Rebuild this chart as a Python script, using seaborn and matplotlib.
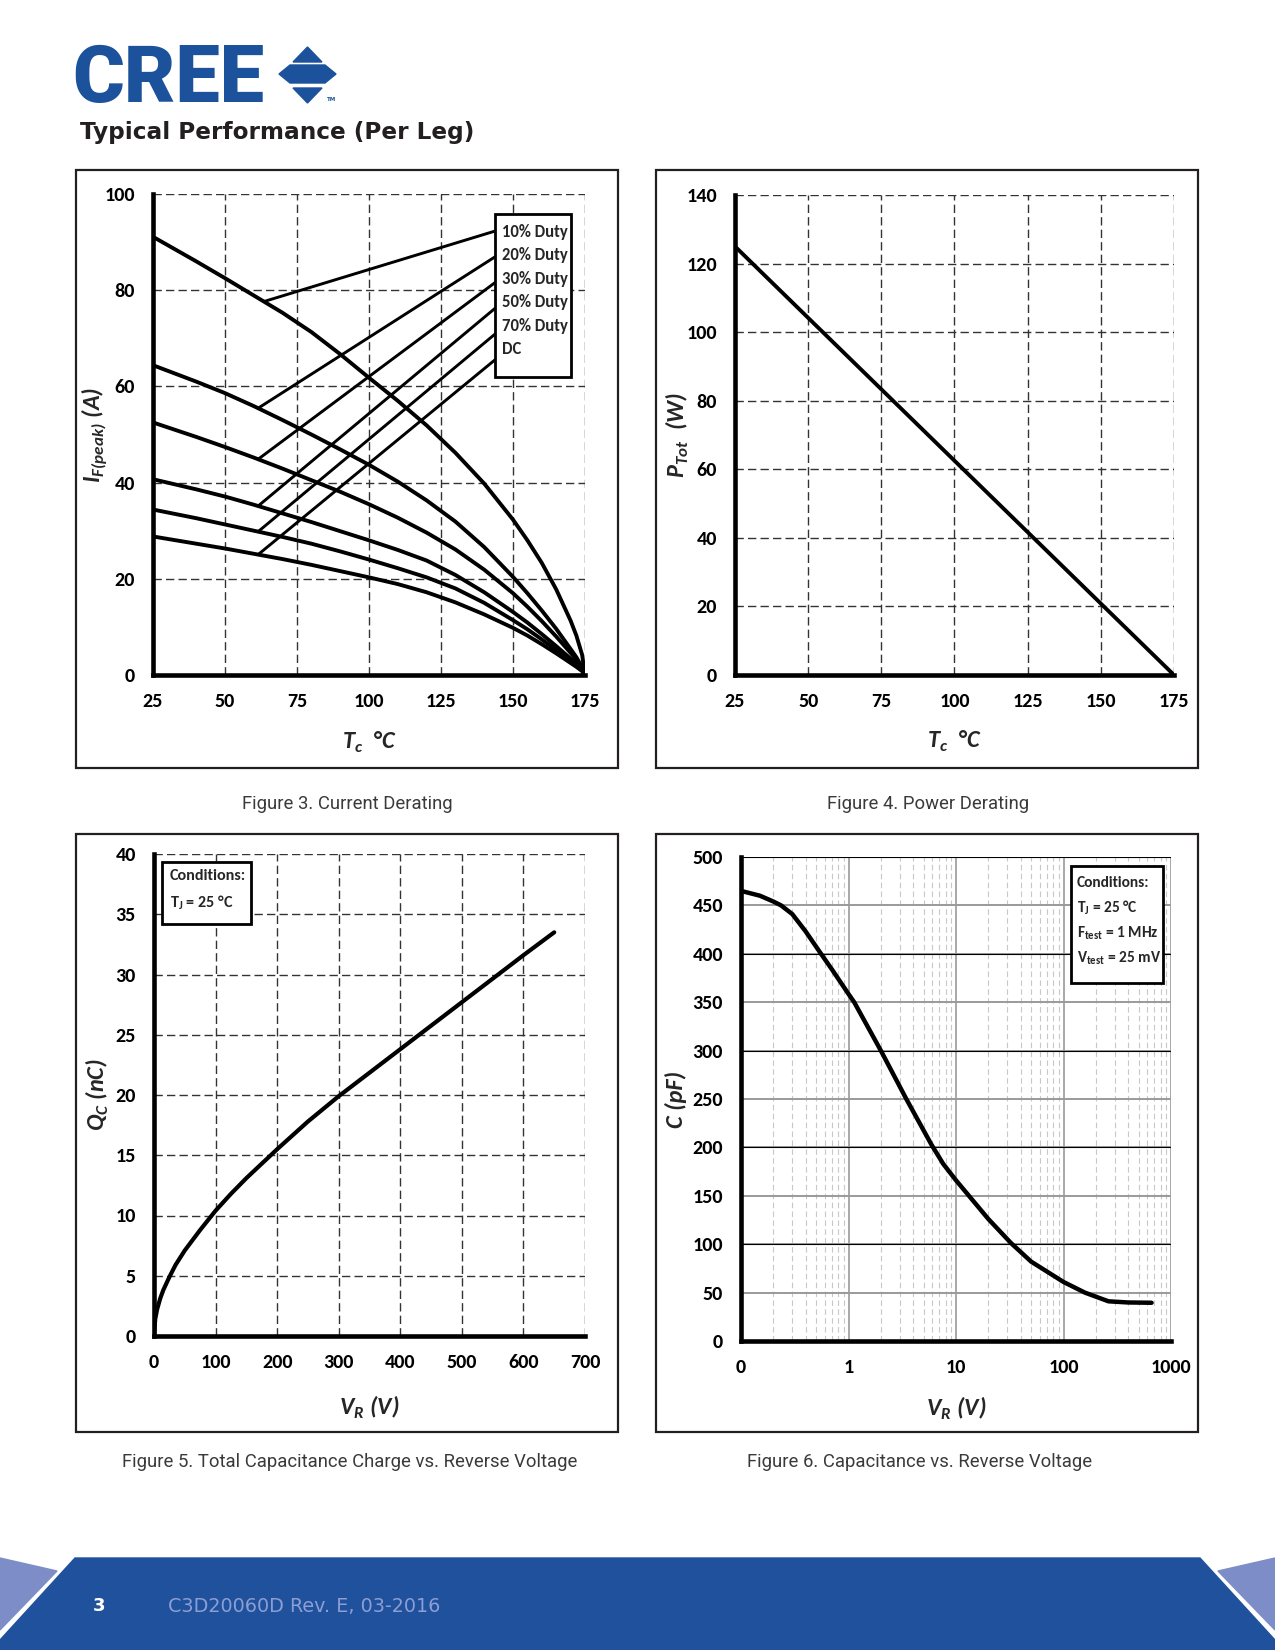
import numpy as np
import pandas as pd
import matplotlib
matplotlib.use('Agg')
import matplotlib.pyplot as plt
import seaborn as sns
from matplotlib import font_manager
from matplotlib.patches import Rectangle, Polygon
from matplotlib.ticker import LogLocator, NullFormatter

# --- values ---
# Figure 3: current derating (case temperature in degC, peak forward current in A)
tc = [25, 40, 50, 60, 70, 80, 90, 100, 110, 120, 130, 140, 150, 155, 160, 165, 170, 172, 174, 175]
duty_labels = ['10% Duty', '20% Duty', '30% Duty', '50% Duty', '70% Duty', 'DC']
if_10 = [91.1, 86.0, 82.5, 78.9, 75.3, 71.3, 66.7, 61.8, 57.0, 51.9, 46.2, 39.8, 32.3, 28.0, 23.3, 17.8, 11.3, 8.2, 4.2, 0]
if_20 = [64.4, 61.0, 58.6, 55.9, 53.0, 50.0, 46.9, 43.7, 40.2, 36.3, 31.9, 26.6, 20.4, 17.0, 13.4, 9.6, 5.4, 3.7, 1.6, 0]
if_30 = [52.5, 49.5, 47.4, 45.2, 42.9, 40.5, 38.1, 35.5, 32.7, 29.6, 26.1, 21.9, 17.0, 14.2, 11.2, 8.0, 4.6, 3.2, 1.5, 0]
if_50 = [40.7, 38.6, 37.1, 35.4, 33.6, 31.8, 29.9, 28.0, 26.0, 23.8, 20.8, 17.2, 13.1, 10.9, 8.5, 6.0, 3.4, 2.3, 1.1, 0]
if_70 = [34.4, 32.6, 31.3, 30.0, 28.7, 27.3, 25.7, 24.0, 22.2, 20.3, 18.0, 15.0, 11.4, 9.5, 7.4, 5.2, 2.9, 2.0, 0.9, 0]
if_dc = [28.8, 27.3, 26.3, 25.2, 24.1, 22.9, 21.6, 20.3, 18.9, 17.2, 15.1, 12.6, 9.8, 8.2, 6.4, 4.5, 2.5, 1.7, 0.8, 0]

# Figure 4: power derating
ptot_tc = [25, 175]
ptot_w = [125, 0]

# Figure 5: total capacitance charge
qc_vr = [0, 2, 5, 10, 15, 25, 35, 50, 75, 100, 125, 150, 200, 250, 300, 350, 400, 450, 500, 550, 600, 650]
qc_nc = [0, 1.4, 2.2, 3.1, 3.8, 4.9, 5.9, 7.1, 8.8, 10.4, 11.8, 13.1, 15.5, 17.8, 19.9, 21.85, 23.8,
         25.75, 27.7, 29.65, 31.6, 33.5]

# Figure 6: capacitance vs reverse voltage
c_vr = [0.1, 0.15, 0.2, 0.236, 0.3, 0.4, 0.555, 0.7, 1.0, 1.13, 2.0, 3.45, 5.9, 7.6, 10, 13.9, 20,
        32.6, 50, 100, 158, 262, 400, 660]
c_pf = [465, 460, 454, 450, 441, 423, 400, 384, 358.5, 350, 300, 250, 203, 183, 166, 147, 126,
        101, 82, 61, 50, 41, 39.8, 39.5]

# --- fonts ---
sns.set_style('white')
fm = font_manager.fontManager.ttflist
names = {f.name for f in fm}


def has_bold(fam):
    return any(f.name == fam and f.weight in (700, 'bold') for f in fm)


pref = ['Carlito', 'Cabin Condensed', 'Liberation Sans']
chart_font = next((f for f in pref if f in names and has_bold(f)), 'DejaVu Sans')
plt.rcParams['font.family'] = [chart_font, 'DejaVu Sans']
plt.rcParams['font.weight'] = 'bold'
plt.rcParams['axes.labelweight'] = 'bold'

W, H = 1275, 1650
fig = plt.figure(figsize=(W / 100, H / 100), dpi=100)


def rect(x0, y0, x1, y1):
    return [x0 / W, 1 - y1 / H, (x1 - x0) / W, (y1 - y0) / H]


# page layer in pixel coordinates
bg = fig.add_axes([0, 0, 1, 1])
bg.set_xlim(0, W)
bg.set_ylim(H, 0)
bg.axis('off')

blue = '#1c529b'
bg.text(72, 102, 'CREE', family='Roboto', fontweight='heavy', fontsize=57, color=blue, va='baseline')
bg.add_patch(Polygon([(293, 62), (322, 62), (307.5, 47)], color=blue))
bg.add_patch(Polygon([(279, 74), (290, 65), (325, 65), (336, 74), (325, 83), (290, 83)], color=blue))
bg.add_patch(Polygon([(293, 88), (322, 88), (307.5, 103)], color=blue))
bg.text(327, 101, 'TM', fontsize=4, color=blue, family='DejaVu Sans')
bg.text(80, 139, 'Typical Performance (Per Leg)', family='DejaVu Sans', fontweight='bold',
        fontsize=16.7, color='#231f20', va='baseline')

# panel frames
for x0, y0 in [(76, 170), (656, 170), (76, 834), (656, 834)]:
    bg.add_patch(Rectangle((x0, y0), 542, 598, fill=False, lw=1.6, ec='#231f20'))

cap_kw = dict(family='Roboto', fontweight='normal', fontsize=13.3, color='#3a3a3a', ha='center', va='center')
bg.text(347, 804, 'Figure 3. Current Derating', **cap_kw)
bg.text(928, 804, 'Figure 4. Power Derating', **cap_kw)
bg.text(350, 1462, 'Figure 5. Total Capacitance Charge vs. Reverse Voltage', **cap_kw)
bg.text(920, 1462, 'Figure 6. Capacitance vs. Reverse Voltage', **cap_kw)

# footer
bg.add_patch(Polygon([(0, 1558), (57, 1571), (0, 1630)], color='#7d8dc7'))
bg.add_patch(Polygon([(1275, 1558), (1218, 1571), (1275, 1630)], color='#7d8dc7'))
bg.add_patch(Polygon([(75, 1558), (1200, 1558), (1275, 1640), (1275, 1650), (0, 1650), (0, 1640)],
                     color='#1f519c'))
bg.text(93, 1606, '3', family='DejaVu Sans', fontweight='bold', fontsize=13, color='white', va='center')
bg.text(168, 1606, 'C3D20060D Rev. E, 03-2016', family='DejaVu Sans', fontweight='normal',
        fontsize=13.8, color='#8c9ed3', va='center')

grid_kw = dict(color='#333333', linestyle=(0, (6, 3)), linewidth=1.0)
label_kw = dict(fontsize=17.5, fontstyle='italic', fontweight='bold')
small = 12


def style(ax):
    for s in ['top', 'right']:
        ax.spines[s].set_visible(False)
    for s in ['left', 'bottom']:
        ax.spines[s].set_linewidth(3.3)
        ax.spines[s].set_color('black')
    ax.tick_params(axis='both', which='major', length=5, width=2.5, pad=8, labelsize=14.5,
                   color='black', labelcolor='black')
    ax.set_axisbelow(True)


# --- Figure 3 ---
ax1 = fig.add_axes(rect(153, 194, 585, 675))
series = [if_10, if_20, if_30, if_50, if_70, if_dc]
df1 = pd.DataFrame({
    'Tc': np.tile(tc, len(series)),
    'IF': np.concatenate(series),
    'duty': np.repeat(duty_labels, len(tc)),
})
sns.lineplot(data=df1, x='Tc', y='IF', hue='duty', palette=['black'] * 6, linewidth=2.8,
             legend=False, ax=ax1, sort=False)
ax1.set_xlim(25, 175)
ax1.set_ylim(0, 100)
ax1.set_xticks(range(25, 176, 25))
ax1.set_yticks(range(0, 101, 20))
ax1.grid(True, **grid_kw)
style(ax1)
ax1.set_xlabel(r'T$_\mathregular{c}$  °C', **label_kw)
ax1.set_ylabel(r'I$_\mathregular{F(peak)}$ (A)', **label_kw)
ax1.xaxis.set_label_coords(0.5, -0.113)
ax1.yaxis.set_label_coords(-0.1, 0.5)

# legend box with leader lines
box_l, box_r, box_b, box_t = 143.8, 170.3, 62.0, 95.8
ax1.add_patch(Rectangle((box_l, box_b), box_r - box_l, box_t - box_b, fc='white', ec='black',
                        lw=2, zorder=5))
lead_start = [63.5, 61.5, 61.5, 61.5, 61.5, 61.5]
for i, (lab, s) in enumerate(zip(duty_labels, series)):
    y_text = 92.2 - i * 4.9
    ax1.text(146.2, y_text, lab, fontsize=small, va='center', zorder=6)
    x0 = lead_start[i]
    ax1.plot([x0, box_l], [np.interp(x0, tc, s), 92.3 - i * 5.35], color='black', lw=2.1, zorder=4)

# --- Figure 4 ---
ax2 = fig.add_axes(rect(735, 195, 1174, 675))
sns.lineplot(x=ptot_tc, y=ptot_w, color='black', linewidth=2.8, ax=ax2)
ax2.set_xlim(25, 175)
ax2.set_ylim(0, 140)
ax2.set_xticks(range(25, 176, 25))
ax2.set_yticks(range(0, 141, 20))
ax2.grid(True, **grid_kw)
style(ax2)
ax2.set_xlabel(r'T$_\mathregular{c}$  °C', **label_kw)
ax2.set_ylabel(r'P$_\mathregular{Tot}$  (W)', **label_kw)
ax2.xaxis.set_label_coords(0.5, -0.113)
ax2.yaxis.set_label_coords(-0.1, 0.5)

# --- Figure 5 ---
ax3 = fig.add_axes(rect(154, 854, 585, 1336))
sns.lineplot(x=qc_vr, y=qc_nc, color='black', linewidth=3, ax=ax3)
ax3.set_xlim(0, 700)
ax3.set_ylim(0, 40)
ax3.set_xticks(range(0, 701, 100))
ax3.set_yticks(range(0, 41, 5))
ax3.grid(True, **grid_kw)
style(ax3)
ax3.set_xlabel(r'V$_\mathregular{R}$ (V)', **label_kw)
ax3.set_ylabel(r'Q$_\mathregular{C}$ (nC)', **label_kw)
ax3.xaxis.set_label_coords(0.5, -0.12)
ax3.yaxis.set_label_coords(-0.1, 0.5)
ax3.add_patch(Rectangle((0.019, 0.855), 0.206, 0.128, transform=ax3.transAxes, fc='white',
                        ec='black', lw=2, zorder=5))
ax3.text(0.036, 0.955, 'Conditions:', transform=ax3.transAxes, fontsize=11.6, va='center', zorder=6)
ax3.text(0.036, 0.9, r'T$_\mathregular{J}$ = 25 °C', transform=ax3.transAxes, fontsize=11.6,
         va='center', zorder=6)

# --- Figure 6 ---
ax4 = fig.add_axes(rect(741, 857, 1171, 1341))
sns.lineplot(x=c_vr, y=c_pf, color='black', linewidth=3.2, ax=ax4)
ax4.set_xscale('log')
ax4.set_xlim(0.1, 1000)
ax4.set_ylim(0, 500)
ax4.set_xticks([0.1, 1, 10, 100, 1000])
ax4.set_xticklabels(['0', '1', '10', '100', '1000'])
ax4.xaxis.set_minor_locator(LogLocator(base=10, subs=np.arange(2, 10)))
ax4.xaxis.set_minor_formatter(NullFormatter())
ax4.set_yticks(range(0, 501, 50))
ax4.grid(True, axis='x', which='minor', color='#c8c8c8', linestyle=(0, (5, 3)), linewidth=0.8)
ax4.grid(True, axis='x', which='major', color='#9a9a9a', linestyle='-', linewidth=1.2)
ax4.grid(True, axis='y', which='major', color='#9a9a9a', linestyle='-', linewidth=1.4)
for v in range(100, 501, 100):
    ax4.axhline(v, color='black', lw=0.8, zorder=1)
style(ax4)
ax4.tick_params(axis='x', which='minor', length=0)
ax4.set_xlabel(r'V$_\mathregular{R}$ (V)', **label_kw)
ax4.set_ylabel('C (pF)', **label_kw)
ax4.xaxis.set_label_coords(0.5, -0.112)
ax4.yaxis.set_label_coords(-0.125, 0.5)
ax4.add_patch(Rectangle((0.768, 0.74), 0.213, 0.241, transform=ax4.transAxes, fc='white',
                        ec='black', lw=2, zorder=5))
cond6 = ['Conditions:', r'T$_\mathregular{J}$ = 25 °C', r'F$_\mathregular{test}$ = 1 MHz',
         r'V$_\mathregular{test}$ = 25 mV']
for i, t in enumerate(cond6):
    ax4.text(0.781, 0.947 - i * 0.052, t, transform=ax4.transAxes, fontsize=11.1, va='center', zorder=6)

fig.savefig('out.png', dpi=100)
